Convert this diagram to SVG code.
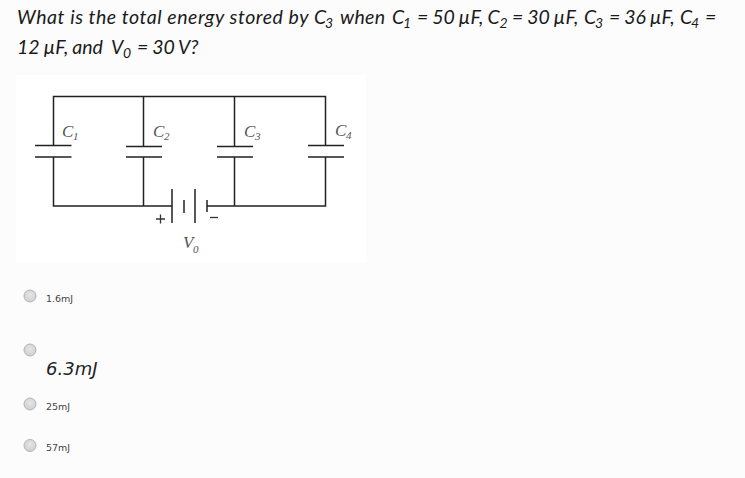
<svg xmlns="http://www.w3.org/2000/svg" width="745" height="478" viewBox="0 0 745 478">
<defs>
<radialGradient id="radio" cx="50%" cy="40%" r="60%"><stop offset="0" stop-color="#e6e6e6"/><stop offset="1" stop-color="#cfcfcf"/></radialGradient>
</defs>
<style>
.q{font-family:"Lato","Liberation Sans",sans-serif;font-style:italic;font-size:19.500px;letter-spacing:.35px;fill:#1a1a1a}
.a{letter-spacing:.55px}
.n{letter-spacing:.03px;word-spacing:-.8px}
.s{font-size:14px}
.o{font-family:"DejaVu Sans",sans-serif;font-size:9.500px;fill:#444}
.big{font-family:"DejaVu Sans",sans-serif;font-style:italic;font-size:18px;fill:#222}
.l{font-family:"Liberation Serif",serif;font-style:italic;font-size:17px;fill:#555}
.ls{font-family:"Liberation Serif",serif;font-style:italic;font-size:11px;fill:#555}
.w{fill:none;stroke:#222;stroke-width:1.500}
.r{fill:url(#radio);stroke:#b5b5b5;stroke-width:1}
</style>
<rect width="745" height="478" fill="#fcfcfc"/>
<text class="q" x="17" y="24"><tspan class="a">What is the total energy stored by </tspan><tspan x="314">C</tspan><tspan class="s" x="325" dy="4">3</tspan><tspan x="340" dy="-4">when </tspan><tspan x="392">C</tspan><tspan class="s" x="403" dy="4">1</tspan><tspan class="n" x="417" dy="-4">= 50 µF, </tspan><tspan x="487.500">C</tspan><tspan class="s" x="499.500" dy="4">2</tspan><tspan class="n" x="512" dy="-4">= 30 µF, </tspan><tspan x="584">C</tspan><tspan class="s" x="595" dy="4">3</tspan><tspan class="n" x="609" dy="-4">= 36 µF, </tspan><tspan x="680">C</tspan><tspan class="s" x="691" dy="4">4</tspan><tspan x="705" dy="-4">=</tspan></text>
<text class="q" x="17" y="54"><tspan class="n">12 µF, and </tspan><tspan x="111">V</tspan><tspan class="s" x="123" dy="4">0</tspan><tspan class="n" x="137" dy="-4">= 30 V?</tspan></text>
<rect x="16" y="75" width="350" height="188" fill="#fff"/>
<g id="connectors" class="w">
<path d="M53.500 145V96.500H325.500V145M143.500 96.500V146M234.500 96.500V146"/>
<path d="M53.500 157V206H172M143.500 157V206M234.500 157V206M207 206H325.500V157"/>
</g>
<g id="C1"><path class="w" d="M35 145.500H71.500M35 157H71.500"/><text class="l" x="62" y="137">C</text><text class="ls" x="73" y="140">1</text></g>
<g id="C2"><path class="w" d="M126 146.500H162M126 157H162"/><text class="l" x="153" y="137">C</text><text class="ls" x="164" y="140">2</text></g>
<g id="C3"><path class="w" d="M217 146.500H253M217 157H253"/><text class="l" x="244" y="137">C</text><text class="ls" x="255" y="140">3</text></g>
<g id="C4"><path class="w" d="M308 145.500H344M308 157H344"/><text class="l" x="335" y="136">C</text><text class="ls" x="346" y="139">4</text></g>
<g id="V0">
<path class="w" d="M172 189V223M184 200V213M195 189V223M207 200V212"/>
<path d="M156 219H165M160.500 214.500V223.500" stroke="#333" stroke-width="1.300"/>
<path d="M210 217.500H218" stroke="#333" stroke-width="1.300"/>
<text class="l" x="183" y="248">V</text><text class="ls" x="193" y="253">0</text>
</g>
<g id="opt1"><circle class="r" cx="30" cy="296" r="6"/><text class="o" x="46" y="302">1.6mJ</text></g>
<g id="opt2"><circle class="r" cx="30" cy="350" r="6"/><text class="big" x="46" y="375">6.3mJ</text></g>
<g id="opt3"><circle class="r" cx="30" cy="404" r="6"/><text class="o" x="46" y="410">25mJ</text></g>
<g id="opt4"><circle class="r" cx="30" cy="445.500" r="6"/><text class="o" x="46" y="451">57mJ</text></g>
</svg>
